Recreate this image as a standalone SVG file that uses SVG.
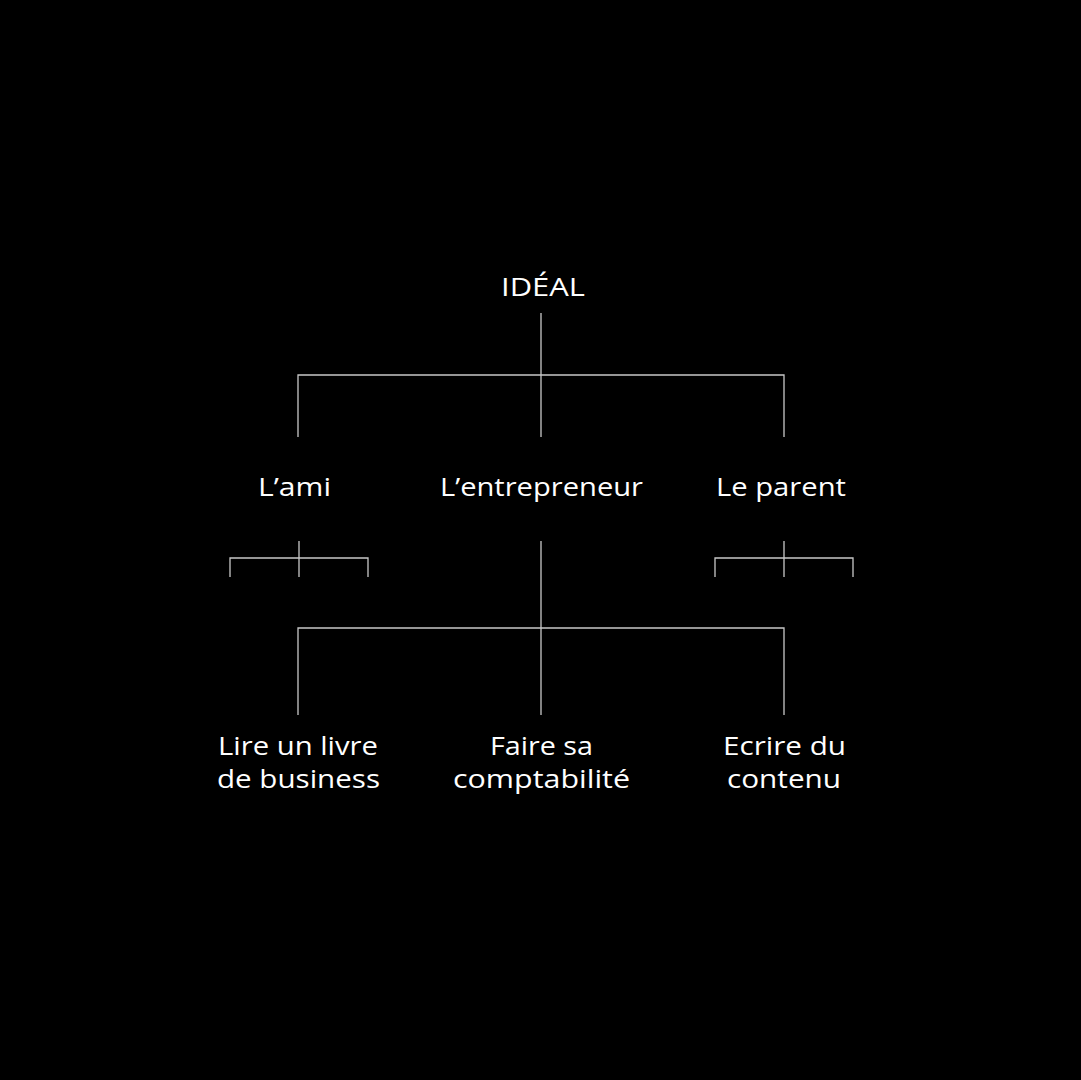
<svg xmlns="http://www.w3.org/2000/svg" width="1081" height="1080" viewBox="0 0 1081 1080">
<style>
.t{font-family:"Open Sans","Noto Sans","Liberation Sans",sans-serif;font-size:26px;fill:#ffffff;text-anchor:middle}
.c{stroke:#c8c8c8;stroke-width:1.3;fill:none}
</style>
<rect width="1081" height="1080" fill="#000"/>
<g id="connectors">
<path class="c" d="M541 313V437M298 437V375H784V437"/>
<path class="c" d="M299 541V577M230 577V558H368V577"/>
<path class="c" d="M784 541V577M715 577V558H853V577"/>
<path class="c" d="M541 541V715M298 715V628H784V715"/>
</g>
<g id="ideal"><text class="t" x="543" y="296" textLength="84" lengthAdjust="spacingAndGlyphs">IDÉAL</text></g>
<g id="ami"><text class="t" x="294.5" y="496" textLength="73" lengthAdjust="spacingAndGlyphs">L’ami</text></g>
<g id="entrepreneur"><text class="t" x="541.5" y="496" textLength="203" lengthAdjust="spacingAndGlyphs">L’entrepreneur</text></g>
<g id="parent"><text class="t" x="781" y="496" textLength="130" lengthAdjust="spacingAndGlyphs">Le parent</text></g>
<g id="livre"><text class="t" x="298" y="755" textLength="160" lengthAdjust="spacingAndGlyphs">Lire un livre</text><text class="t" x="298.5" y="788" textLength="163" lengthAdjust="spacingAndGlyphs">de business</text></g>
<g id="compta"><text class="t" x="541.5" y="755" textLength="103" lengthAdjust="spacingAndGlyphs">Faire sa</text><text class="t" x="541.5" y="788" textLength="177" lengthAdjust="spacingAndGlyphs">comptabilité</text></g>
<g id="contenu"><text class="t" x="784.5" y="755" textLength="123" lengthAdjust="spacingAndGlyphs">Ecrire du</text><text class="t" x="784" y="788" textLength="114" lengthAdjust="spacingAndGlyphs">contenu</text></g>
</svg>
